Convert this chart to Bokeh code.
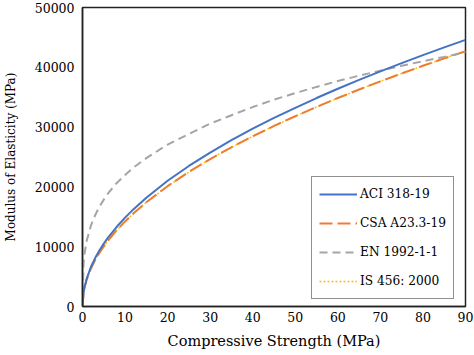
from bokeh.plotting import figure
from bokeh.models import Range1d, FixedTicker, NumeralTickFormatter, Legend, LegendItem
from bokeh.embed import file_html
from bokeh.resources import INLINE

# Compressive strength (MPa)
fc = [0, 0.25, 0.5, 1, 2, 3, 4, 5, 6, 8, 10, 12, 15, 20, 25, 30, 35, 40, 45,
      50, 55, 60, 65, 70, 75, 80, 85, 90]

# Modulus of elasticity (MPa)
aci = [0, 2350, 3320, 4700, 6650, 8140, 9400, 10510, 11510, 13290, 14860, 16280,
       18200, 21020, 23500, 25740, 27810, 29730, 31530, 33230, 34860, 36410,
       37890, 39320, 40700, 42040, 43330, 44590]
csa = [0, 2250, 3180, 4500, 6360, 7790, 9000, 10060, 11020, 12730, 14230, 15590,
       17430, 20120, 22500, 24650, 26620, 28460, 30190, 31820, 33370, 34860,
       36280, 37650, 38970, 40250, 41490, 42690]
en = [0, 7270, 8950, 11030, 13580, 15300, 16720, 17870, 18920, 20620, 22000,
      23240, 24810, 27080, 28860, 30580, 31990, 33350, 34580, 35690, 36720,
      37700, 38600, 39440, 40250, 41020, 41740, 42530]
is456 = [0, 2250, 3180, 4500, 6360, 7790, 9000, 10060, 11020, 12730, 14230, 15590,
         17430, 20120, 22500, 24650, 26620, 28460, 30190, 31820, 33370, 34860,
         36280, 37650, 38970, 40250, 41490, 42690]

x_ticks = [0, 10, 20, 30, 40, 50, 60, 70, 80, 90]
y_ticks = [0, 10000, 20000, 30000, 40000, 50000]

FONT = "DejaVu Serif"

p = figure(width=474, height=355, output_backend="svg", toolbar_location=None,
           x_range=Range1d(0, 90), y_range=Range1d(0, 50000),
           min_border_left=78, min_border_right=9, min_border_top=7,
           min_border_bottom=49)
p.background_fill_color = "white"
p.border_fill_color = "white"
p.outline_line_color = "#222222"
p.outline_line_width = 1.5
p.xgrid.visible = False
p.ygrid.visible = False

r_is = p.line(fc, is456, line_color="#FFC000", line_width=1.5, line_dash="2 2")
r_csa = p.line(fc, csa, line_color="#ED7D31", line_width=2, line_dash="13 5")
r_en = p.line(fc, en, line_color="#A5A5A5", line_width=2, line_dash="8 5")
r_aci = p.line(fc, aci, line_color="#4472C4", line_width=2)

for ax in (p.xaxis[0], p.yaxis[0]):
    ax.major_tick_line_color = None
    ax.minor_tick_line_color = None
    ax.major_tick_out = 0
    ax.major_tick_in = 0
    ax.minor_tick_out = 0
    ax.minor_tick_in = 0
    ax.axis_line_color = "#222222"
    ax.axis_line_width = 1.5
    ax.major_label_text_font = FONT
    ax.major_label_text_font_size = "12.5px"
    ax.major_label_text_color = "black"
    ax.axis_label_text_font = FONT
    ax.axis_label_text_font_style = "normal"
    ax.axis_label_text_color = "black"

p.xaxis.ticker = FixedTicker(ticks=x_ticks)
p.yaxis.ticker = FixedTicker(ticks=y_ticks)
p.yaxis.formatter = NumeralTickFormatter(format="0")
p.xaxis.axis_label = "Compressive Strength (MPa)"
p.yaxis.axis_label = "Modulus of Elasticity (MPa)"
p.xaxis.axis_label_text_font_size = "14.5px"
p.yaxis.axis_label_text_font_size = "12px"
p.xaxis.major_label_standoff = 5
p.yaxis.major_label_standoff = 8
p.xaxis.axis_label_standoff = 8
p.yaxis.axis_label_standoff = 14

legend = Legend(items=[
    LegendItem(label="ACI 318-19", renderers=[r_aci]),
    LegendItem(label="CSA A23.3-19", renderers=[r_csa]),
    LegendItem(label="EN 1992-1-1", renderers=[r_en]),
    LegendItem(label="IS 456: 2000", renderers=[r_is]),
], location=(229, 7))
legend.label_text_font = FONT
legend.label_text_font_size = "12.2px"
legend.label_text_color = "black"
legend.glyph_width = 38
legend.glyph_height = 20
legend.label_height = 20
legend.spacing = 9
legend.padding = 7
legend.margin = 0
legend.label_standoff = 3
legend.border_line_color = "#222222"
legend.border_line_width = 1.5
legend.background_fill_alpha = 1
p.add_layout(legend, "center")

open("out.html", "w").write(file_html(p, INLINE))
